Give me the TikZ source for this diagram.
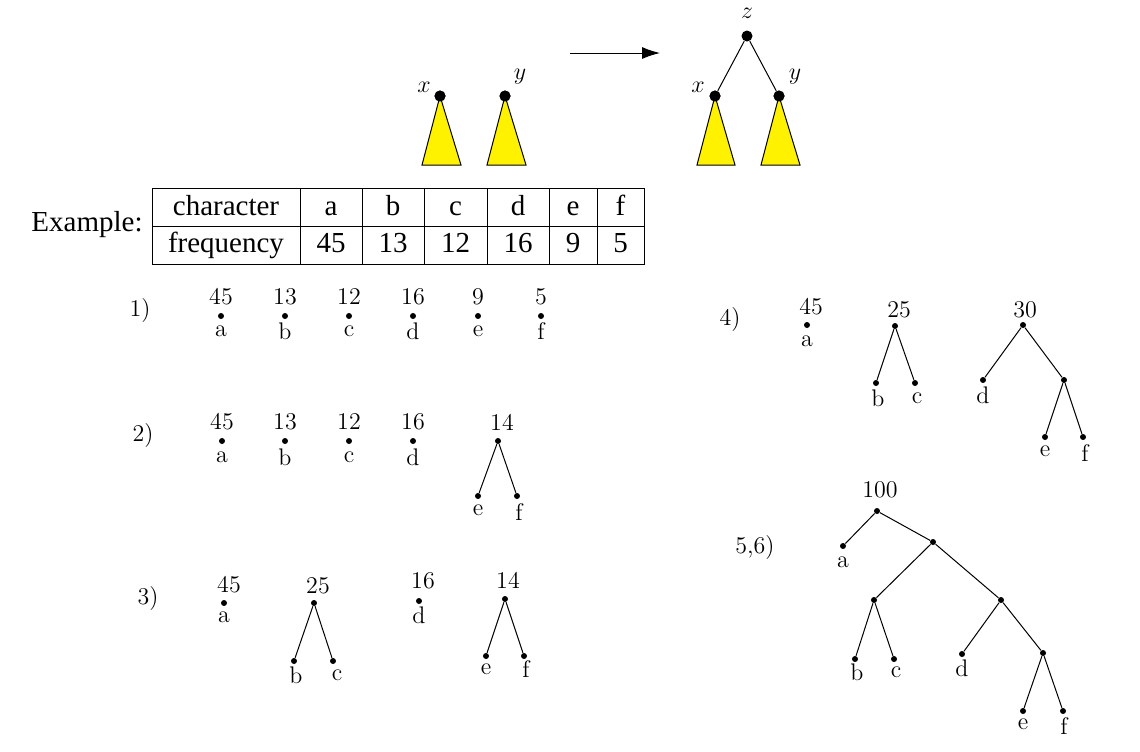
\documentclass[tikz,border=0pt]{standalone}
\usepackage{fontspec}
\usetikzlibrary{arrows.meta}
\newfontfamily\tms{Liberation Serif}
\begin{document}
\begin{tikzpicture}[x=0.5pt,y=-0.5pt,
  dot/.style={circle,fill=black,inner sep=0pt,minimum size=3pt},
  bdot/.style={circle,fill=black,inner sep=0pt,minimum size=5.5pt},
  lab/.style={font=\fontsize{12}{13}\selectfont,inner sep=0pt},
  tlab/.style={font=\tms\fontsize{14.5}{15}\selectfont,inner sep=0pt},
  tri/.style={draw=black,fill=yellow,line width=0.5pt},
  edge/.style={line width=0.5pt}]
\useasboundingbox (0,0) rectangle (1140,751);
% top
\node[bdot] (x1) at (440,96) {};
\node[bdot] (y1) at (505,96) {};
\draw[tri] (x1.center) -- (422,165) -- (461,165) -- cycle;
\draw[tri] (y1.center) -- (487,165) -- (526,165) -- cycle;
\node[bdot] at (x1) {}; \node[bdot] at (y1) {};
\node[lab] at (424,87) {$x$};
\node[lab] at (520,77) {$y$};
\coordinate (a1) at (570,53); \coordinate (a2) at (660,53);
\draw[edge,-{Latex[length=9pt,width=6pt]}] (a1) -- (a2);
\node[bdot] (z) at (747,36) {};
\node[bdot] (x2) at (715,96) {};
\node[bdot] (y2) at (779,96) {};
\draw[edge] (z) -- (x2); \draw[edge] (z) -- (y2);
\draw[tri] (x2.center) -- (697,165) -- (735,165) -- cycle;
\draw[tri] (y2.center) -- (761,165) -- (800,165) -- cycle;
\node[bdot] at (x2) {}; \node[bdot] at (y2) {};
\node[lab] at (747,13) {$z$};
\node[lab] at (698,87) {$x$};
\node[lab] at (795,77) {$y$};
% table
\draw[line width=0.5pt] (152,188) rectangle (644,264) (152,226) -- (644,226);
\foreach \c in {300,362,424,487,549,597} \draw[line width=0.5pt] (\c,188) -- (\c,264);
\node[tlab] at (87,225) {Example:};
\foreach \t/\xa/\xb in {character/152/300,a/300/362,b/362/424,c/424/487,d/487/549,e/549/597,f/597/644}
  \node[tlab,anchor=base] at ({(\xa+\xb)/2},215) {\t};
\foreach \t/\xa/\xb in {frequency/152/300,45/300/362,13/362/424,12/424/487,16/487/549,9/549/597,5/597/644}
  \node[tlab,anchor=base] at ({(\xa+\xb)/2},252) {\t};
% row 1
\node[lab] at (140,311) {1)};
\foreach \x/\n/\l [count=\i] in {221/45/a,285/13/b,349/12/c,413/16/d,478/9/e,541/5/f}{
  \node[dot] (r1\i) at (\x,316) {};
  \node[lab] at (\x,297) {\n};
  \node[lab] at (\x,331) {\l};}
% row 2
\node[lab] at (143,436) {2)};
\foreach \x/\n/\l [count=\i] in {222/45/a,285/13/b,349/12/c,413/16/d}{
  \node[dot] (r2\i) at (\x,441) {};
  \node[lab] at (\x,422) {\n};
  \node[lab] at (\x,457) {\l};}
\node[dot] (r2r) at (498,441) {};
\node[dot] (r2e) at (478,496) {};
\node[dot] (r2f) at (517,496) {};
\draw[edge] (r2r) -- (r2e) (r2r) -- (r2f);
\node[lab] at (502,422) {14};
\node[lab] at (478,510) {e};
\node[lab] at (519,512) {f};
% row 3
\node[lab] at (148,598) {3)};
\node[dot] (r3a) at (224,603) {}; \node[lab] at (229,585) {45}; \node[lab] at (224,617) {a};
\node[dot] (r3r) at (314,603) {}; \node[lab] at (318,586) {25};
\node[dot] (r3b) at (294,661) {}; \node[dot] (r3c) at (333,661) {};
\draw[edge] (r3r) -- (r3b) (r3r) -- (r3c);
\node[lab] at (296,675) {b}; \node[lab] at (337,675) {c};
\node[dot] (r3d) at (419,601) {}; \node[lab] at (423,581) {16}; \node[lab] at (419,615) {d};
\node[dot] (r3s) at (505,599) {}; \node[lab] at (508,580) {14};
\node[dot] (r3e) at (486,656) {}; \node[dot] (r3f) at (524,656) {};
\draw[edge] (r3s) -- (r3e) (r3s) -- (r3f);
\node[lab] at (486,669) {e}; \node[lab] at (526,669) {f};
% row 4
\node[lab] at (730,320) {4)};
\node[dot] (r4a) at (807,325) {}; \node[lab] at (811,307) {45}; \node[lab] at (807,341) {a};
\node[dot] (r4r) at (895,326) {}; \node[lab] at (899,310) {25};
\node[dot] (r4b) at (876,383) {}; \node[dot] (r4c) at (915,383) {};
\draw[edge] (r4r) -- (r4b) (r4r) -- (r4c);
\node[lab] at (878,398) {b}; \node[lab] at (917,398) {c};
\node[dot] (r4s) at (1023,325) {}; \node[lab] at (1025,310) {30};
\node[dot] (r4d) at (983,380) {}; \node[lab] at (983,395) {d};
\node[dot] (r4i) at (1064,380) {};
\node[dot] (r4e) at (1045,437) {}; \node[lab] at (1045,451) {e};
\node[dot] (r4f) at (1083,437) {}; \node[lab] at (1085,453) {f};
\draw[edge] (r4s) -- (r4d) (r4s) -- (r4i) (r4i) -- (r4e) (r4i) -- (r4f);
% 5,6
\node[lab] at (755,547) {5,6)};
\node[dot] (t0) at (877,511) {}; \node[lab] at (880,490) {100};
\node[dot] (ta) at (843,546) {}; \node[lab] at (843,562) {a};
\node[dot] (t1) at (933,542) {};
\node[dot] (t2) at (874,600) {};
\node[dot] (t3) at (1001,600) {};
\node[dot] (tb) at (855,659) {}; \node[lab] at (857,672) {b};
\node[dot] (tc) at (894,659) {}; \node[lab] at (896,672) {c};
\node[dot] (td) at (962,654) {}; \node[lab] at (962,668) {d};
\node[dot] (t4) at (1043,653) {};
\node[dot] (te) at (1023,711) {}; \node[lab] at (1023,724) {e};
\node[dot] (tf) at (1063,711) {}; \node[lab] at (1064,726) {f};
\draw[edge] (t0) -- (ta) (t0) -- (t1) (t1) -- (t2) (t1) -- (t3) (t2) -- (tb) (t2) -- (tc)
  (t3) -- (td) (t3) -- (t4) (t4) -- (te) (t4) -- (tf);
\end{tikzpicture}
\end{document}
